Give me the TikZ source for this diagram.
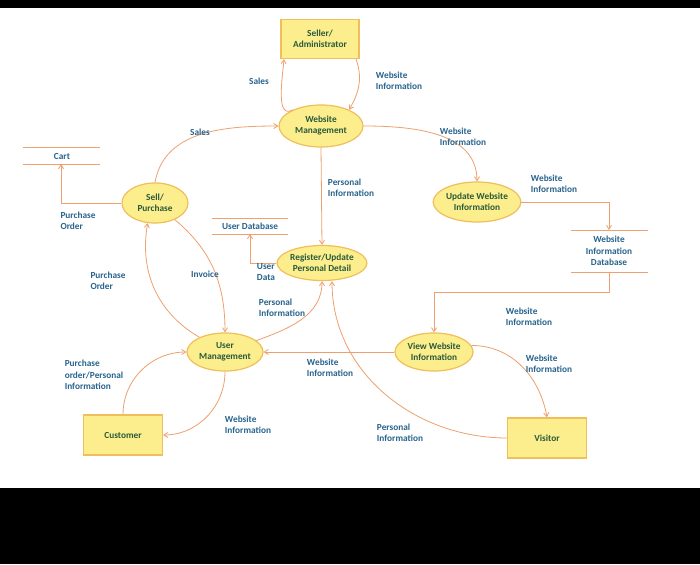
\documentclass[tikz,border=0pt]{standalone}
\usepackage{fontspec}
\setmainfont{Carlito}
\usetikzlibrary{arrows.meta,shapes.geometric}
\definecolor{fillY}{RGB}{252,238,140}
\definecolor{bordY}{RGB}{240,190,90}
\definecolor{lineO}{RGB}{238,160,110}
\definecolor{txtN}{RGB}{40,90,60}
\definecolor{txtL}{RGB}{40,100,140}
\tikzset{
 proc/.style={ellipse,draw=bordY,fill=fillY,line width=1.2pt,inner sep=0pt,font=\fontsize{9.3}{11}\selectfont\bfseries,text=txtN,align=center},
 ent/.style={rectangle,draw=bordY,fill=fillY,line width=1.2pt,inner sep=0pt,font=\fontsize{9.3}{11}\selectfont\bfseries,text=txtN,align=center},
 store/.style={font=\fontsize{9.3}{11.5}\selectfont\bfseries,text=txtL,align=center,inner sep=0pt},
 lab/.style={font=\fontsize{9.3}{11.5}\selectfont\bfseries,text=txtL,align=left,inner sep=0pt},
 flow/.style={draw=lineO,line width=0.8pt,-{Straight Barb[length=4pt,width=5pt]}},
 sline/.style={draw=lineO,line width=1pt}
}
\begin{document}
\begin{tikzpicture}[x=1pt,y=-1pt]
\fill[black] (0,0) rectangle (700,564);
\fill[white] (0,8) rectangle (700,488);
\useasboundingbox (0,0) rectangle (700,564);
% entities
\node[ent,minimum width=78pt,minimum height=39pt] (seller) at (320,39) {Seller/\\Administrator};
\node[ent,minimum width=79pt,minimum height=40pt] (cust) at (123,435) {Customer};
\node[ent,minimum width=79pt,minimum height=40pt] (vis) at (547,438) {Visitor};
% processes
\node[proc,minimum width=84pt,minimum height=42pt] (wm) at (321,126) {Website\\Management};
\node[proc,minimum width=66pt,minimum height=40pt] (sp) at (155,203) {Sell/\\Purchase};
\node[proc,minimum width=84pt,minimum height=35pt] (reg) at (322,263) {Register/Update\\Personal Detail};
\node[proc,minimum width=80pt,minimum height=40pt] (uw) at (477,202) {Update Website\\Information};
\node[proc,minimum width=76pt,minimum height=38pt] (um) at (225,352) {User\\Management};
\node[proc,minimum width=78pt,minimum height=38pt] (vw) at (434,352) {View Website\\Information};
% stores
\draw[sline] (23,148) -- (100,148) (23,164) -- (100,164);
\node[store] (cart) at (62,156) {Cart};
\coordinate (cartb) at (61,164);
\draw[sline] (212,218) -- (288,218) (212,234) -- (288,234);
\node[store] (udb) at (250,226) {User Database};
\coordinate (udbb) at (250,234);
\draw[sline] (571,230) -- (648,230) (571,272) -- (648,272);
\node[store] (wid) at (609,251) {Website\\Information\\Database};
\coordinate (widt) at (609,230);
\coordinate (widb) at (609,272);
% flows
\draw[flow] (wm.150) to[out=210,in=265] (seller.south west -| 284,58);
\draw[flow] (seller.south east -| 356,58) to[out=290,in=60] (wm.30);
\draw[flow] (sp.north) to[out=80,in=180] (wm.west);
\draw[flow] (wm.east) to[out=0,in=90] (uw.north);
\draw[flow] (wm.south) -- (reg.north);
\draw[flow] (uw.east) -| (widt);
\draw[flow] (sp.west) -| (cartb);
\draw[flow] (reg.west) -| (udbb);
\draw[flow] (widb) -- (609,292) -| (vw.north);
\draw[flow] (vw.west) -- (um.east);
\draw[flow] (vw.10) to[out=0,in=100] (vis.north);
\draw[flow] (vis.west) to[out=180,in=270] ([xshift=10pt]reg.south);
\draw[flow] (um.20) to[out=20,in=270] (reg.south);
\draw[flow] (sp.320) to[out=-40,in=90] (um.north);
\draw[flow] (um.150) to[out=150,in=260] (sp.250);
\draw[flow] (cust.north) to[out=90,in=180] (um.west);
\draw[flow] (um.south) to[out=270,in=0] (cust.east);
% labels
\node[lab] (l1) at (259,81) {Sales};
\node[lab] (l2) at (399,81) {Website\\Information};
\node[lab] (l3) at (200,132) {Sales};
\node[lab] (l4) at (463,137) {Website\\Information};
\node[lab] (l5) at (351,188) {Personal\\Information};
\node[lab] (l6) at (554,184) {Website\\Information};
\node[lab] (l7) at (78,221) {Purchase\\Order};
\node[lab] (l8) at (266,272) {User\\Data};
\node[lab] (l9) at (529,317) {Website\\Information};
\node[lab] (l10) at (330,368) {Website\\Information};
\node[lab] (l11) at (549,364) {Website\\Information};
\node[lab] (l12) at (400,433) {Personal\\Information};
\node[lab] (l13) at (282,308) {Personal\\Information};
\node[lab] (l14) at (205,274) {Invoice};
\node[lab] (l15) at (108,281) {Purchase\\Order};
\node[lab] (l16) at (94,375) {Purchase\\order/Personal\\Information};
\node[lab] (l17) at (248,425) {Website\\Information};
\end{tikzpicture}
\end{document}
